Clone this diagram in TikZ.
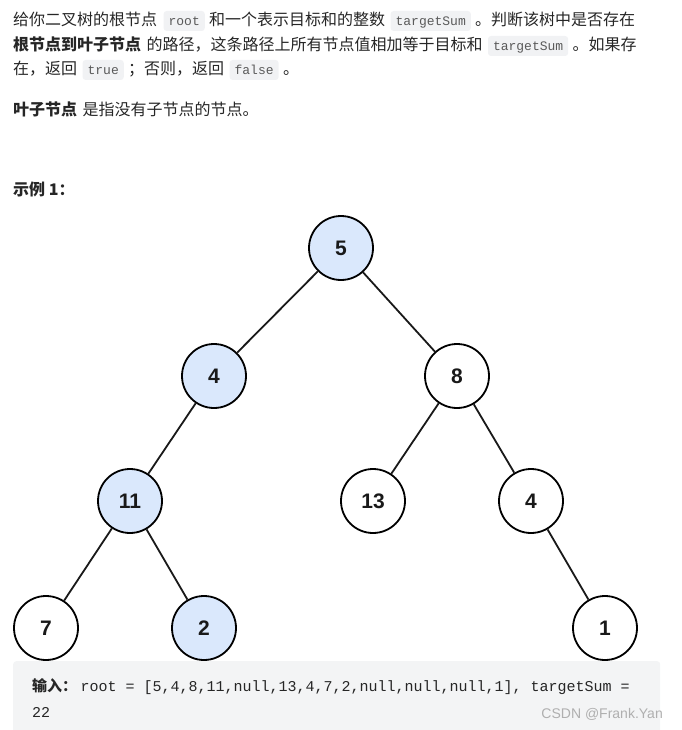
\documentclass[tikz,border=0pt]{standalone}
\usepackage{fontspec}
\setmainfont{Noto Sans CJK SC}
\newfontfamily\numfont{Liberation Sans}
\newfontfamily\codefont{Liberation Mono}
\definecolor{textc}{RGB}{38,38,38}
\definecolor{icodetext}{RGB}{90,90,90}
\definecolor{icodebg}{RGB}{241,242,244}
\definecolor{cboxbg}{RGB}{243,244,245}
\definecolor{hlfill}{RGB}{218,232,252}
\definecolor{wmark}{RGB}{175,175,175}
\tikzset{
  txt/.style={inner sep=0pt, anchor=base west, text=textc, font=\fontsize{16pt}{20pt}\selectfont},
  txtb/.style={txt, font=\fontsize{16pt}{20pt}\selectfont\bfseries},
  icode/.style={anchor=base west, fill=icodebg, rounded corners=3pt, inner xsep=5pt, inner ysep=3pt,
    text height=12pt, text depth=2pt, text=icodetext, font=\codefont\fontsize{13pt}{16pt}\selectfont},
  tnode/.style={circle, draw=black, line width=1.8pt, minimum size=64pt, inner sep=0pt, fill=white,
    font=\numfont\bfseries\fontsize{21pt}{24pt}\selectfont, text=black!90},
  hl/.style={tnode, fill=hlfill},
  edge/.style={draw=black!90, line width=1.8pt},
  code/.style={inner sep=0pt, anchor=base west, text=textc, font=\codefont\fontsize{15pt}{18pt}\selectfont},
}
\begin{document}
\begin{tikzpicture}[x=1pt,y=-1pt]
\useasboundingbox (0,0) rectangle (681,730);
% paragraph text
\node[txt] (l1a) at (13,26) {给你二叉树的根节点};
\node[icode] (l1b) at ([xshift=6pt]l1a.base east) {root};
\node[txt] (l1c) at ([xshift=4pt]l1b.base east) {和一个表示目标和的整数};
\node[icode] (l1d) at ([xshift=5pt]l1c.base east) {targetSum};
\node[txt] (l1e) at ([xshift=4pt]l1d.base east) {。判断该树中是否存在};
\node[txtb] (l2a) at (13,51) {根节点到叶子节点};
\node[txt] (l2b) at ([xshift=5pt]l2a.base east) {的路径，这条路径上所有节点值相加等于目标和};
\node[icode] (l2c) at ([xshift=5pt]l2b.base east) {targetSum};
\node[txt] (l2d) at ([xshift=4pt]l2c.base east) {。如果存};
\node[txt] (l3a) at (13,75) {在，返回};
\node[icode] (l3b) at ([xshift=5pt]l3a.base east) {true};
\node[txt] (l3c) at ([xshift=4pt]l3b.base east) {；否则，返回};
\node[icode] (l3d) at ([xshift=5pt]l3c.base east) {false};
\node[txt] (l3e) at ([xshift=4pt]l3d.base east) {。};
\node[txtb] (l4a) at (13,116) {叶子节点};
\node[txt] (l4b) at ([xshift=5pt]l4a.base east) {是指没有子节点的节点。};
\node[txtb] (ex) at (13,196) {示例 1：};
% code box
\node[fill=cboxbg, rounded corners=3pt, anchor=north west, minimum width=647pt, minimum height=75pt, inner sep=0pt] (cbox) at (13,661) {};
\node[txtb, font=\fontsize{15pt}{18pt}\selectfont\bfseries] (in1) at (32,691) {输入：};
\node[code] (in2) at ([xshift=3pt]in1.base east) {root = [5,4,8,11,null,13,4,7,2,null,null,null,1], targetSum =};
\node[code] (in3) at (32,717) {22};
\node[inner sep=0pt, anchor=base east, text=wmark, font=\numfont\fontsize{14pt}{16pt}\selectfont] (wm) at (663,718) {CSDN @Frank.Yan};
% tree
\node[hl] (n5) at (341,248) {5};
\node[hl] (n4) at (214,376) {4};
\node[tnode] (n8) at (457,376) {8};
\node[hl] (n11) at (130,501) {11};
\node[tnode] (n13) at (373,501) {13};
\node[tnode] (n4r) at (531,501) {4};
\node[tnode] (n7) at (46,628) {7};
\node[hl] (n2) at (204,628) {2};
\node[tnode] (n1) at (605,628) {1};
\path[edge] (n5) -- (n4);
\path[edge] (n5) -- (n8);
\path[edge] (n4) -- (n11);
\path[edge] (n8) -- (n13);
\path[edge] (n8) -- (n4r);
\path[edge] (n11) -- (n7);
\path[edge] (n11) -- (n2);
\path[edge] (n4r) -- (n1);
\end{tikzpicture}
\end{document}
